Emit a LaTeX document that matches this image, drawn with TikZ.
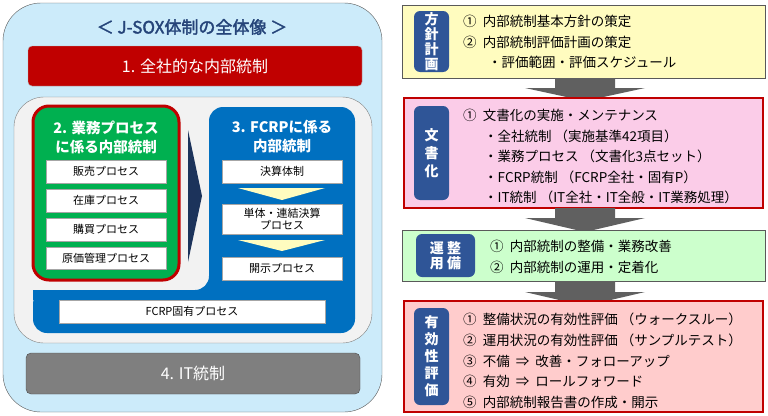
\documentclass[tikz,border=0pt]{standalone}
\usepackage{fontspec}
\setmainfont{Noto Sans CJK JP}
\newfontfamily\cjkb{Noto Sans CJK JP}[FakeBold=2]
\begin{document}
\begin{tikzpicture}[x=1pt,y=-1pt,
  wbox/.style={draw=gray!70,fill=white,minimum width=120pt,inner sep=0pt,font=\fontsize{11}{12}\selectfont,align=center},
  badge/.style={fill=badgeblue,rounded corners=6pt,text=white,font=\fontsize{14}{15}\selectfont\bfseries,align=center,inner sep=0pt},
  rtext/.style={anchor=west,font=\fontsize{13.5}{15}\selectfont,inner sep=0pt},
  garrow/.style={fill=gray!75!black,draw=none},
  ychev/.style={fill=yellow!25,draw=none}]
\definecolor{badgeblue}{HTML}{2F5597}
\definecolor{lblue}{HTML}{CCEBFA}
\definecolor{dred}{HTML}{C00000}
\definecolor{bblue}{HTML}{0070C0}
\definecolor{gg}{HTML}{00B050}
\definecolor{itgray}{HTML}{7F7F7F}
\useasboundingbox (0,0) rectangle (768,415);
% left outer
\draw[gray!70!black,fill=lblue,rounded corners=38pt] (3,3) rectangle (382,412);
\node (title) at (192,27) {\cjkb\fontsize{17}{19}\selectfont\color{badgeblue!80!black}＜ J-SOX体制の全体像 ＞};
\node[fill=dred,draw=gray!60,rounded corners=4pt,minimum width=334pt,minimum height=40pt,text=white,font=\fontsize{16}{18}\selectfont] (r1) at (195,66) {1. 全社的な内部統制};
\draw[gray,fill=gray!10,rounded corners=30pt] (14,97) rectangle (372,343);
% blue L-shape
\fill[bblue,rounded corners=14pt] (209,107) -- (355,107) -- (355,333) -- (33,333) -- (33,290) -- (209,290) -- cycle;
\fill[bblue] (33,290) rectangle (60,300);
% green
\draw[dred,line width=3pt,fill=gg,rounded corners=16pt] (33,106) rectangle (179,280);
\node[text=white,font=\fontsize{14.5}{19}\selectfont\bfseries,align=center] (g) at (106,137) {2. 業務プロセス\\に係る内部統制};
\node[text=white,font=\fontsize{14.5}{19}\selectfont\bfseries,align=center] (b) at (282,137) {3. FCRPに係る\\内部統制};
\node[wbox,minimum height=23pt] (p1) at (106,171.5) {販売プロセス};
\node[wbox,minimum height=23pt] (p2) at (106,200.5) {在庫プロセス};
\node[wbox,minimum height=23pt] (p3) at (106,229.5) {購買プロセス};
\node[wbox,minimum height=22pt] (p4) at (106,258) {原価管理プロセス};
\fill[badgeblue!60!black] (188,130) -- (202,196) -- (188,262) -- cycle;
\node[wbox,minimum height=23pt] (q1) at (282,171.5) {決算体制};
\node[wbox,minimum height=30pt,font=\fontsize{11}{12.5}\selectfont] (q2) at (282,219) {単体・連結決算\\プロセス};
\node[wbox,minimum height=23pt] (q3) at (282,268.5) {開示プロセス};
\fill[ychev] (238,188) -- (325,188) -- (282,200) -- cycle;
\fill[ychev] (238,240) -- (325,240) -- (282,251) -- cycle;
\node[wbox,minimum width=266pt,minimum height=23pt] (fc) at (192,311.5) {FCRP固有プロセス};
\node[fill=itgray,draw=gray!60!black,rounded corners=5pt,minimum width=334pt,minimum height=41pt,text=white,font=\fontsize{16}{18}\selectfont] (it) at (193,373.5) {4. IT統制};
% right side
\node[draw=gray!70!black,fill=yellow!25,minimum width=363pt,minimum height=73pt] (s1) at (583.5,41.5) {};
\node[badge,minimum width=35pt,minimum height=61pt] (b1) at (431.5,41.5) {方\\針\\計\\画};
\node[rtext] (t11) at (463,21) {①\ \ 内部統制基本方針の策定};
\node[rtext] (t12) at (463,42) {②\ \ 内部統制評価計画の策定};
\node[rtext] (t13) at (488,62) {・評価範囲・評価スケジュール};
\fill[garrow] (555,78) -- (615,78) -- (615,88) -- (645,88) -- (585,101) -- (525,88) -- (555,88) -- cycle;
\node[draw=dred,line width=2pt,fill=magenta!20,minimum width=359pt,minimum height=110pt] (s2) at (583.5,152.5) {};
\node[badge,minimum width=35pt,minimum height=94pt] (b2) at (431.5,153) {文\\[3pt]書\\[3pt]化};
\node[rtext] (t21) at (463,115) {①\ \ 文書化の実施・メンテナンス};
\node[rtext] (t22) at (484,136) {・全社統制 （実施基準42項目）};
\node[rtext] (t23) at (484,156.5) {・業務プロセス （文書化3点セット）};
\node[rtext] (t24) at (484,177) {・FCRP統制 （FCRP全社・固有P）};
\node[rtext] (t25) at (484,197) {・IT統制 （IT全社・IT全般・IT業務処理）};
\fill[garrow] (555,208) -- (615,208) -- (615,218) -- (645,218) -- (585,232) -- (525,218) -- (555,218) -- cycle;
\node[draw=gray!70!black,fill=green!20,minimum width=363pt,minimum height=51pt] (s3) at (583.5,255.5) {};
\node[badge,minimum width=59pt,minimum height=43pt] (b3) at (445.5,255.5) {運\ 整\\用\ 備};
\node[rtext] (t31) at (490,246) {①\ \ 内部統制の整備・業務改善};
\node[rtext] (t32) at (490,267) {②\ \ 内部統制の運用・定着化};
\fill[garrow] (555,281) -- (615,281) -- (615,292) -- (645,292) -- (585,306) -- (525,292) -- (555,292) -- cycle;
\node[draw=dred,line width=2pt,fill=red!20,minimum width=359pt,minimum height=111pt] (s4) at (583.5,356) {};
\node[badge,minimum width=35pt,minimum height=97pt] (b4) at (431.5,356.5) {有\\[2pt]効\\[2pt]性\\[2pt]評\\[2pt]価};
\node[rtext] (t41) at (463,319) {①\ \ 整備状況の有効性評価 （ウォークスルー）};
\node[rtext] (t42) at (463,340) {②\ \ 運用状況の有効性評価 （サンプルテスト）};
\node[rtext] (t43) at (463,361) {③\ \ 不備 \ ⇒\ \ 改善・フォローアップ};
\node[rtext] (t44) at (463,381.5) {④\ \ 有効 \ ⇒\ \ ロールフォワード};
\node[rtext] (t45) at (463,402) {⑤\ \ 内部統制報告書の作成・開示};
\end{tikzpicture}
\end{document}
